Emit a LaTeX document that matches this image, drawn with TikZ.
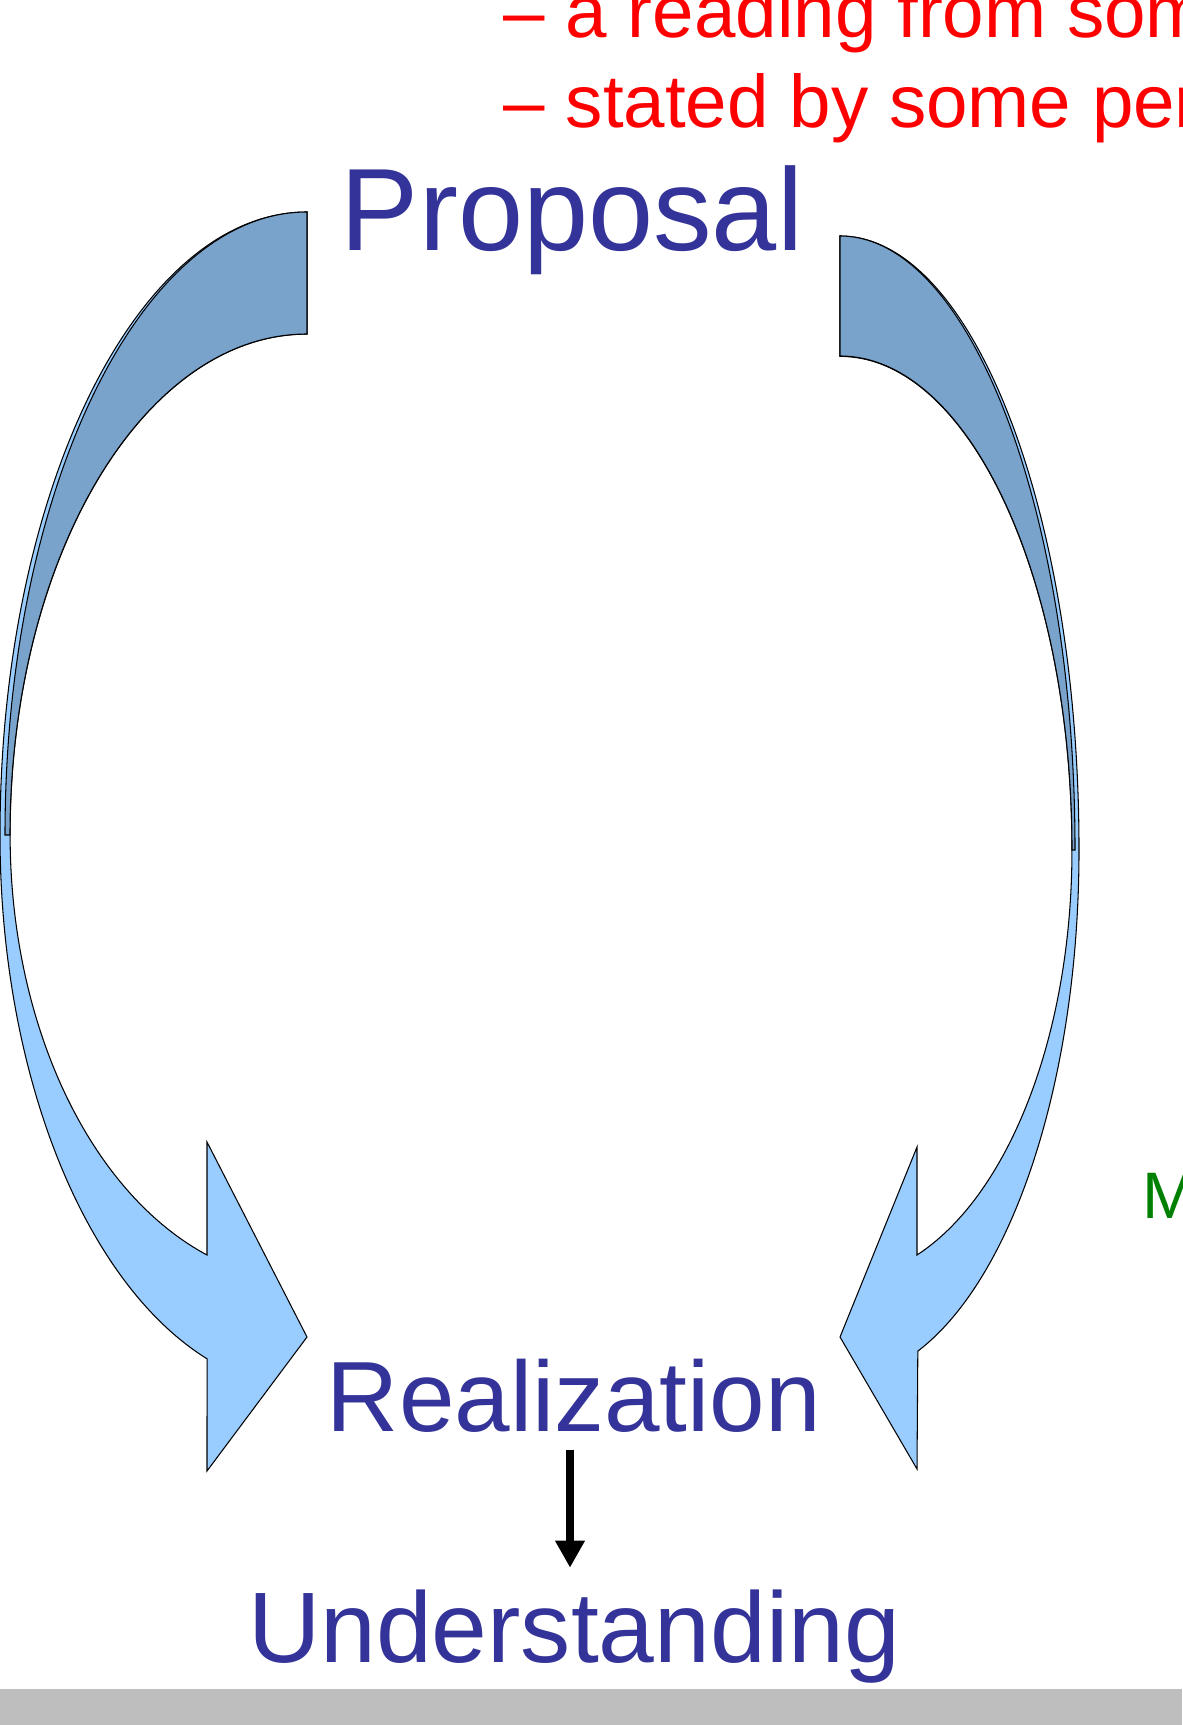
\documentclass[tikz,border=0pt]{standalone}
\usepackage{fontspec}
\setmainfont{Liberation Sans}
\usepackage{tikz}
\usetikzlibrary{arrows.meta}

\definecolor{propblue}{RGB}{51,51,153}
\definecolor{frontblue}{RGB}{153,204,255}
\definecolor{backblue}{RGB}{122,163,204}
\definecolor{bargray}{RGB}{190,190,190}
\definecolor{mgreen}{RGB}{0,128,0}

\begin{document}
\begin{tikzpicture}[
    x=0.01cm, y=-0.01cm,
    title/.style={text=propblue, inner sep=0pt, anchor=base},
    note/.style={text=red, inner sep=0pt, anchor=base west, font=\fontsize{21.2pt}{25pt}\selectfont},
    front/.style={fill=frontblue, draw=black, line width=0.3pt},
    back/.style={fill=backblue, draw=black, line width=0.3pt},
    arr/.style={-{Triangle[length=7.7pt, width=8pt]}, line width=2.4pt},
]
  \useasboundingbox (0,0) rectangle (1182,1725);
  \clip (0,0) rectangle (1182,1725);

  % left curved arrow
  \path[front] (307,212) arc[start angle=270, end angle=180, x radius=307, y radius=623]
    arc[start angle=180, end angle=109, x radius=307, y radius=554]
    -- (207,1471) -- (307,1337) -- (207,1142) -- (207,1255)
    arc[start angle=109.7, end angle=180, x radius=297, y radius=446]
    arc[start angle=180, end angle=270, x radius=297, y radius=501]
    -- cycle;
  \path[back] (307,212) arc[start angle=270, end angle=180, x radius=302, y radius=623]
    -- (10,835) arc[start angle=180, end angle=270, x radius=297, y radius=501]
    -- cycle;

  % right curved arrow
  \path[front] (840,236) arc[start angle=270, end angle=360, x radius=239, y radius=614]
    arc[start angle=0, end angle=71, x radius=239, y radius=530]
    -- (917,1469) -- (840,1337) -- (917,1147) -- (917,1255)
    arc[start angle=70.6, end angle=0, x radius=232, y radius=429]
    arc[start angle=360, end angle=270, x radius=232, y radius=494]
    -- cycle;
  \path[back] (840,236) arc[start angle=270, end angle=360, x radius=235, y radius=614]
    -- (1072,850) arc[start angle=360, end angle=270, x radius=232, y radius=494]
    -- cycle;

  \node[note] (note1) at (503,38) {– a reading from some};
  \node[note] (note2) at (503,128) {– stated by some person};

  \node[title, font=\fontsize{33.3pt}{38pt}\selectfont] (prop) at (572,251) {Proposal};
  \node[title, font=\fontsize{28.4pt}{34pt}\selectfont] (real) at (574,1431) {Realization};
  \node[title, font=\fontsize{28.5pt}{34pt}\selectfont] (under) at (574,1662) {Understanding};

  \node[text=mgreen, inner sep=0pt, anchor=base west, font=\fontsize{18.7pt}{22pt}\selectfont] (mlabel) at (1142,1218) {M};

  \draw[arr, shorten <=0.17cm, shorten >=0.21cm] ([xshift=-0.04cm]real.south) -- ([xshift=-0.04cm]under.north);

  \fill[bargray] (0,1689) rectangle (1182,1725);
\end{tikzpicture}
\end{document}
